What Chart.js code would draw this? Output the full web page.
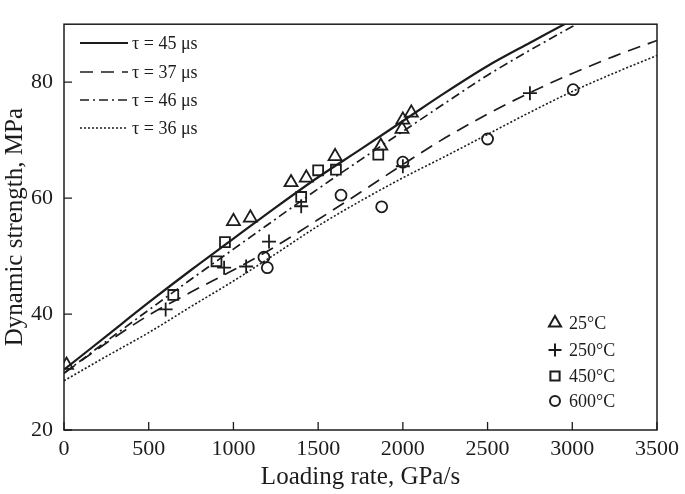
<!DOCTYPE html>
<html>
<head>
<meta charset="utf-8">
<title>Dynamic strength vs loading rate</title>
<script src="https://cdn.jsdelivr.net/npm/chart.js"></script>
<style>
    html, body { margin: 0; padding: 0; background: #fff; }
    .chart-container { width: 685px; height: 494px; position: relative; }
</style>
</head>
<body>
<div class="chart-container">
    <canvas id="strengthChart"></canvas>
</div>
<script>
    // Model curves, every 250 GPa/s
    const rates = [0, 250, 500, 750, 1000, 1250, 1500, 1750, 2000, 2250, 2500, 2750, 3000, 3250, 3500];
    const tau45 = [30.4, 36.2, 42.0, 47.6, 53.0, 58.4, 63.6, 68.4, 73.3, 78.2, 82.8, 86.8, 90.7, 94.3, 97.6];
    const tau37 = [29.8, 35.0, 39.8, 43.8, 47.6, 51.7, 56.3, 61.0, 65.8, 70.4, 74.5, 78.2, 81.5, 84.5, 87.2];
    const tau46 = [29.8, 35.3, 40.7, 46.0, 51.2, 56.4, 61.6, 66.6, 71.5, 76.4, 81.2, 85.5, 89.6, 93.5, 97.0];
    const tau36 = [28.5, 32.7, 36.8, 41.3, 45.7, 50.4, 55.2, 59.5, 63.5, 67.2, 71.0, 74.8, 78.4, 81.6, 84.6];

    // Measured points
    const t25Rate = [15, 1000, 1100, 1340, 1430, 1600, 1870, 1995, 2000, 2050];
    const t25Str = [31.2, 56.0, 56.6, 62.7, 63.5, 67.2, 69.0, 71.9, 73.5, 74.7];
    const t250Rate = [600, 945, 1075, 1210, 1400, 2000, 2750];
    const t250Str = [40.8, 48.0, 48.2, 52.5, 58.6, 65.5, 78.1];
    const t450Rate = [645, 900, 950, 1400, 1500, 1605, 1855];
    const t450Str = [43.3, 49.1, 52.4, 60.2, 64.8, 64.9, 67.5];
    const t600Rate = [1180, 1200, 1635, 1875, 2000, 2500, 3005];
    const t600Str = [49.8, 48.0, 60.5, 58.5, 66.2, 70.2, 78.7];

    const xTicks = [0, 500, 1000, 1500, 2000, 2500, 3000, 3500];
    const yTicks = [20, 40, 60, 80];

    const ink = '#1c1c1c';
    const serif = "'Liberation Serif', 'DejaVu Serif', serif";

    function pairs(xs, ys) {
        return xs.map((x, i) => ({ x: x, y: ys[i] }));
    }

    function curve(label, ys, dash, width) {
        return {
            label: label,
            data: pairs(rates, ys),
            showLine: true,
            borderColor: ink,
            borderWidth: width,
            borderDash: dash,
            pointRadius: 0,
            cubicInterpolationMode: 'monotone',
            fill: false,
            group: 'lines'
        };
    }

    function markers(label, xs, ys, style, r) {
        return {
            label: label,
            data: pairs(xs, ys),
            showLine: false,
            pointStyle: style,
            pointRadius: r,
            pointBorderWidth: 1.8,
            borderColor: ink,
            backgroundColor: 'rgba(0,0,0,0)',
            group: 'points'
        };
    }

    // Frame, inward ticks and the two legends drawn inside the plot
    const decorations = {
        id: 'decorations',
        afterDraw(chart) {
            const ctx = chart.ctx;
            const a = chart.chartArea;
            const xs = chart.scales.x;
            const ys = chart.scales.y;
            ctx.save();
            ctx.strokeStyle = ink;
            ctx.lineWidth = 1.5;
            ctx.setLineDash([]);
            ctx.strokeRect(a.left, a.top, a.right - a.left, a.bottom - a.top);

            ctx.lineWidth = 1.3;
            ctx.beginPath();
            xTicks.forEach(v => {
                const px = xs.getPixelForValue(v);
                ctx.moveTo(px, a.bottom);
                ctx.lineTo(px, a.bottom - 8);
            });
            yTicks.forEach(v => {
                const py = ys.getPixelForValue(v);
                ctx.moveTo(a.left, py);
                ctx.lineTo(a.left + 8, py);
            });
            ctx.stroke();

            ctx.font = '18px ' + serif;
            ctx.textBaseline = 'middle';
            ctx.textAlign = 'left';

            // line legend, top left
            const lineRows = [43, 72, 100, 128];
            chart.data.datasets.filter(d => d.group === 'lines').forEach((d, i) => {
                const y = lineRows[i];
                ctx.lineWidth = d.borderWidth;
                ctx.setLineDash(d.borderDash);
                ctx.beginPath();
                ctx.moveTo(80, y);
                ctx.lineTo(128, y);
                ctx.stroke();
                ctx.setLineDash([]);
                ctx.fillStyle = ink;
                ctx.fillText(d.label, 132, y + 1);
            });

            // marker legend, bottom right
            const pointRows = [323, 350, 376, 401];
            chart.data.datasets.filter(d => d.group === 'points').forEach((d, i) => {
                const y = pointRows[i];
                ctx.lineWidth = 2;
                ctx.fillStyle = 'rgba(0,0,0,0)';
                Chart.helpers.drawPoint(ctx, {
                    pointStyle: d.pointStyle,
                    radius: d.pointRadius - 0.5,
                    borderWidth: 2
                }, 555, y);
                ctx.fillStyle = ink;
                ctx.fillText(d.label, 569, y + 1);
            });
            ctx.restore();
        }
    };

    const ctx = document.getElementById('strengthChart').getContext('2d');
    new Chart(ctx, {
        type: 'scatter',
        data: {
            datasets: [
                curve('\u03c4 = 45 \u03bcs', tau45, [], 2.2),
                curve('\u03c4 = 37 \u03bcs', tau37, [13, 8], 1.7),
                curve('\u03c4 = 46 \u03bcs', tau46, [9, 4, 2, 4], 1.7),
                curve('\u03c4 = 36 \u03bcs', tau36, [2, 2], 1.6),
                markers('25\u00b0C', t25Rate, t25Str, 'triangle', 7.5),
                markers('250\u00b0C', t250Rate, t250Str, 'cross', 7),
                markers('450\u00b0C', t450Rate, t450Str, 'rect', 7),
                markers('600\u00b0C', t600Rate, t600Str, 'circle', 5.5)
            ]
        },
        options: {
            responsive: true,
            maintainAspectRatio: false,
            animation: false,
            layout: { padding: { top: 12, right: 24, left: 0, bottom: 0 } },
            plugins: {
                legend: { display: false },
                tooltip: { enabled: false }
            },
            scales: {
                x: {
                    type: 'linear',
                    min: 0,
                    max: 3500,
                    afterFit: s => { s.height = 64; },
                    afterBuildTicks: s => { s.ticks = xTicks.map(v => ({ value: v })); },
                    grid: { display: false, drawTicks: false },
                    border: { display: false },
                    ticks: {
                        color: ink, padding: 6, maxRotation: 0,
                        font: { family: serif, size: 22 },
                        callback: v => String(v)
                    },
                    title: {
                        display: true,
                        text: 'Loading rate, GPa/s',
                        color: ink,
                        padding: { top: 0, bottom: 2 },
                        font: { family: serif, size: 25 }
                    }
                },
                y: {
                    min: 20,
                    max: 90,
                    afterFit: s => { s.width = 64; },
                    afterBuildTicks: s => { s.ticks = yTicks.map(v => ({ value: v })); },
                    grid: { display: false, drawTicks: false },
                    border: { display: false },
                    ticks: {
                        color: ink, padding: 11,
                        font: { family: serif, size: 22 },
                        callback: v => String(v)
                    },
                    title: {
                        display: true,
                        text: 'Dynamic strength, MPa',
                        color: ink,
                        padding: { top: 0, bottom: 0 },
                        font: { family: serif, size: 25 }
                    }
                }
            }
        },
        plugins: [decorations]
    });
</script>
</body>
</html>
